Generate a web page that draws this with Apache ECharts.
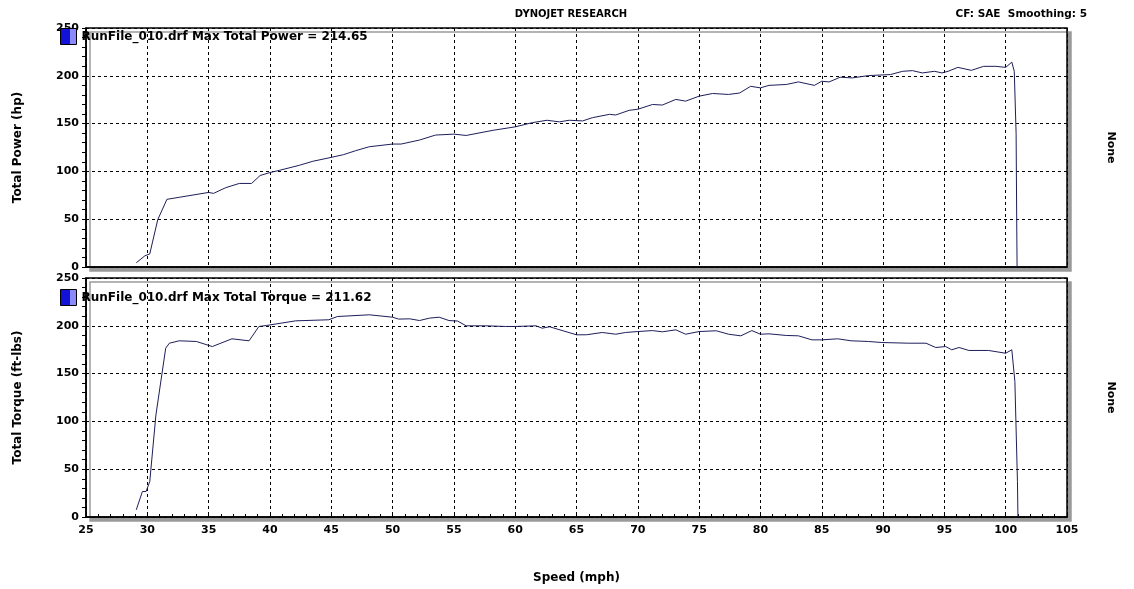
<!DOCTYPE html>
<html>
<head>
<meta charset="utf-8">
<script src="https://cdn.jsdelivr.net/npm/echarts@6/dist/echarts.min.js"></script>
<style>html,body{margin:0;padding:0;background:#fff;}#c{width:1134px;height:589px;}</style>
</head>
<body>
<div id="c"></div>
<script>
// Total Power (hp) vs speed (mph)
const powerSpeed = [29.1, 29.8, 30.2, 30.85, 31.6, 32.6, 35.0, 35.4, 36.4, 37.5, 38.5, 39.2, 40.0, 40.8, 42.4, 43.5, 44.9, 46.0, 47.0, 48.1, 50.0, 50.7, 52.2, 53.5, 55.0, 56.0, 58.2, 60.0, 61.4, 62.6, 63.6, 64.4, 65.5, 66.3, 67.7, 68.2, 69.3, 70.0, 71.2, 72.0, 73.1, 73.9, 75.0, 76.1, 77.4, 78.3, 79.2, 80.0, 80.7, 82.1, 83.1, 84.4, 85.0, 85.6, 86.5, 87.5, 88.8, 90.6, 91.6, 92.4, 93.2, 94.2, 94.8, 95.3, 96.1, 97.2, 98.2, 99.2, 100.0, 100.5, 100.7, 100.85, 100.9, 100.93];
const powerValues = [4.4, 11.7, 13.7, 49.5, 70.8, 72.9, 78, 77, 83, 87.4, 87.4, 95.7, 98.8, 101.2, 106.4, 110.6, 114.4, 117.5, 121.7, 125.8, 128.6, 128.6, 132.8, 138, 139, 137.6, 143, 146.6, 151, 153.5, 151.8, 153.5, 152.8, 156.2, 159.7, 159, 163.9, 165, 170, 169.4, 175.3, 173.5, 178.7, 181.5, 180.5, 182, 189, 187.4, 190, 190.9, 193.6, 190, 194.3, 193.6, 198.5, 197.8, 200.2, 201.3, 204.7, 205.4, 203, 204.7, 203, 204.7, 208.8, 205.7, 209.9, 209.9, 208.8, 214.3, 204.7, 139.3, 46, 0];

// Total Torque (ft-lbs) vs speed (mph)
const torqueSpeed = [29.1, 29.6, 29.9, 30.2, 30.7, 31.5, 31.8, 32.6, 34.0, 35.3, 36.9, 38.3, 39.1, 39.7, 42.1, 44.8, 45.5, 48.1, 50.0, 50.5, 51.4, 52.2, 53.0, 53.8, 54.6, 55.3, 56.0, 57.6, 59.2, 60.0, 61.7, 62.2, 62.8, 63.9, 65.0, 65.8, 67.1, 68.2, 69.0, 70.0, 71.2, 72.0, 73.1, 73.9, 75.0, 76.4, 77.4, 78.4, 79.3, 80.0, 80.7, 82.1, 83.1, 84.2, 85.0, 86.3, 87.4, 88.8, 89.9, 92.1, 93.5, 94.3, 95.1, 95.6, 96.2, 97.0, 98.6, 100.0, 100.5, 100.75, 100.96, 101.0];
const torqueValues = [7.5, 26.7, 26.7, 37, 106.6, 176.6, 181.8, 184.3, 183.6, 178.3, 186.4, 184.3, 199.3, 200.3, 205.2, 206.3, 209.7, 211.5, 209, 207, 207.3, 205.5, 208, 209, 205.5, 205, 200, 200, 199.3, 199.3, 200, 197.5, 199, 194.8, 190.6, 190.6, 193, 191.2, 193, 194, 195, 193.7, 195.8, 191.2, 194, 194.8, 191.2, 189.5, 195, 191.2, 191.6, 189.9, 189.5, 185.3, 185.3, 186.4, 184.3, 183.6, 182.5, 181.8, 181.8, 177.3, 178.3, 174.9, 177.3, 174.2, 174.2, 171.3, 174.9, 141.7, 37, 0];

const xTicks = {min: 25, max: 105, interval: 5};
const yTicks = {min: 0, max: 250, interval: 50};
const powerName = 'RunFile_010.drf Max Total Power = 214.65';
const torqueName = 'RunFile_010.drf Max Total Torque = 211.62';

const FONT = 'DejaVu Sans';
const lineColor = '#1e1e5a';
const legendIcon = {type: 'linear', x: 0, y: 0, x2: 1, y2: 0, colorStops: [
  {offset: 0, color: '#1212d8'}, {offset: 0.6, color: '#1212d8'},
  {offset: 0.6, color: '#8a8af8'}, {offset: 1, color: '#8a8af8'}]};

const dashed = {show: true, lineStyle: {color: '#000', type: [3, 3], width: 1}};

function xAxis(gridIndex, showLabels) {
  return {
    type: 'value', gridIndex: gridIndex, min: xTicks.min, max: xTicks.max, interval: xTicks.interval,
    axisLine: {show: true, lineStyle: {color: '#000', width: 1.5}},
    axisTick: {show: showLabels, inside: true, length: 4, lineStyle: {color: '#000'}},
    minorTick: {show: showLabels, splitNumber: 5, length: 3, lineStyle: {color: '#000'}},
    axisLabel: {show: showLabels, color: '#000', fontFamily: FONT, fontWeight: 'bold', fontSize: 11, margin: 8},
    splitLine: dashed,
    name: showLabels ? 'Speed (mph)' : '', nameLocation: 'middle', nameGap: 55,
    nameTextStyle: {color: '#000', fontFamily: FONT, fontWeight: 'bold', fontSize: 12}
  };
}
function yAxis(gridIndex, name) {
  return {
    type: 'value', gridIndex: gridIndex, min: yTicks.min, max: yTicks.max, interval: yTicks.interval,
    axisLine: {show: true, lineStyle: {color: '#000', width: 1.5}},
    axisTick: {show: true, length: 4, lineStyle: {color: '#000'}},
    minorTick: {show: true, splitNumber: 5, length: 4, lineStyle: {color: '#000'}},
    axisLabel: {color: '#000', fontFamily: FONT, fontWeight: 'bold', fontSize: 11, margin: 7},
    splitLine: dashed,
    name: name, nameLocation: 'middle', nameGap: 62,
    nameTextStyle: {color: '#000', fontFamily: FONT, fontWeight: 'bold', fontSize: 12}
  };
}
function rightAxis(gridIndex) {
  return {
    type: 'value', gridIndex: gridIndex, position: 'right', min: yTicks.min, max: yTicks.max,
    axisLine: {show: false}, axisTick: {show: false}, axisLabel: {show: false}, splitLine: {show: false},
    name: 'None', nameLocation: 'middle', nameGap: 38, nameRotate: -90,
    nameTextStyle: {color: '#000', fontFamily: FONT, fontWeight: 'bold', fontSize: 11}
  };
}
const gridStyle = {show: true, backgroundColor: '#fff', borderColor: '#000', borderWidth: 1.5,
  shadowColor: '#9a9a9a', shadowBlur: 0, shadowOffsetX: 4, shadowOffsetY: 4};

const option = {
  animation: false,
  backgroundColor: '#fff',
  title: [
    {text: 'DYNOJET RESEARCH', left: 566, top: 4, textAlign: 'center',
      textStyle: {fontFamily: FONT, fontWeight: 'bold', fontSize: 10, color: '#000'}},
    {text: 'CF: SAE  Smoothing: 5', right: 42, top: 4,
      textStyle: {fontFamily: FONT, fontWeight: 'bold', fontSize: 10.5, color: '#000'}}
  ],
  legend: [
    {data: [{name: powerName, itemStyle: {color: legendIcon, borderColor: '#000', borderWidth: 1}}],
      left: 60, top: 28, padding: 0, icon: 'rect', itemWidth: 16, itemHeight: 16, itemGap: 4,
      textStyle: {fontFamily: FONT, fontWeight: 'bold', fontSize: 12, color: '#000'}},
    {data: [{name: torqueName, itemStyle: {color: legendIcon, borderColor: '#000', borderWidth: 1}}],
      left: 60, top: 289, padding: 0, icon: 'rect', itemWidth: 16, itemHeight: 16, itemGap: 4,
      textStyle: {fontFamily: FONT, fontWeight: 'bold', fontSize: 12, color: '#000'}}
  ],
  grid: [
    Object.assign({left: 86, right: 67, top: 28, height: 239}, gridStyle),
    Object.assign({left: 86, right: 67, top: 278, height: 239}, gridStyle)
  ],
  xAxis: [xAxis(0, false), xAxis(1, true)],
  yAxis: [yAxis(0, 'Total Power (hp)'), yAxis(1, 'Total Torque (ft-lbs)'), rightAxis(0), rightAxis(1)],
  series: [
    {name: powerName, type: 'line', xAxisIndex: 0, yAxisIndex: 0, showSymbol: false, smooth: false,
      lineStyle: {color: lineColor, width: 1}, itemStyle: {color: lineColor},
      data: powerSpeed.map((s, i) => [s, powerValues[i]])},
    {name: torqueName, type: 'line', xAxisIndex: 1, yAxisIndex: 1, showSymbol: false, smooth: false,
      lineStyle: {color: lineColor, width: 1}, itemStyle: {color: lineColor},
      data: torqueSpeed.map((s, i) => [s, torqueValues[i]])}
  ]
};
const chart = echarts.init(document.getElementById('c'), null, {renderer: 'canvas'});
chart.setOption(option);
</script>
</body>
</html>
